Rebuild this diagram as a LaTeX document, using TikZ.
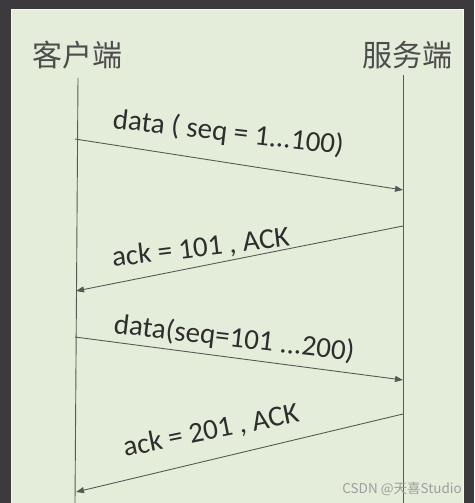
\documentclass[tikz,border=0pt]{standalone}
\usepackage{fontspec}
\setmainfont{Carlito}
\newfontfamily\cjk{Noto Sans CJK SC}
\usetikzlibrary{arrows.meta}
\definecolor{frame}{HTML}{3C3A3C}
\definecolor{panel}{HTML}{E4EDDA}
\definecolor{ink}{HTML}{2E2E2E}
\definecolor{lineink}{HTML}{555A55}
\tikzset{
  life/.style={draw=lineink, line width=0.9pt},
  msg/.style={draw=lineink, line width=0.9pt, -{Triangle[length=8pt,width=6pt]}},
  lbl/.style={font=\fontsize{29}{32}\selectfont, text=ink, inner sep=0pt, anchor=base west},
  title/.style={font=\cjk\fontsize{30}{34}\selectfont, text=ink!85, inner sep=0pt},
}
\begin{document}
\begin{tikzpicture}[x=1pt,y=1pt]
\useasboundingbox (0,0) rectangle (474,-503);
\fill[frame] (0,0) rectangle (474,-503);
\fill[panel] (11,-9) rectangle (464,-503);
\draw[white!70!panel, line width=0.8pt] (11.4,-503) -- (11.4,-9.4) -- (463.6,-9.4) -- (463.6,-503);
% titles
\node[title] (client) at (77.5,-55) {客户端};
\node[title] (server) at (407.5,-55) {服务端};
% lifelines
\coordinate (ct) at (78,-78);
\coordinate (cb) at (75,-503);
\coordinate (st) at (403.5,-75);
\coordinate (sb) at (403.5,-503);
\draw[life] (ct) -- (cb);
\draw[life] (st) -- (sb);
% message endpoints
\coordinate (a1) at (75,-139);
\coordinate (b1) at (403,-190);
\coordinate (a2) at (403,-226);
\coordinate (b2) at (76,-291);
\coordinate (a3) at (75,-337);
\coordinate (b3) at (403,-380);
\coordinate (a4) at (403,-414);
\coordinate (b4) at (76,-492);
\draw[msg] (a1) -- (b1);
\draw[msg] (a2) -- (b2);
\draw[msg] (a3) -- (b3);
\draw[msg] (a4) -- (b4);
% labels
\node[lbl, rotate=-6.6] (l1) at (112,-128) {data ( seq = 1...100)};
\node[lbl, rotate=6.7] (l2) at (113,-267) {ack = 101 , ACK};
\node[lbl, rotate=-6.6] (l3) at (113,-333) {data(seq=101 ...200)};
\node[lbl, rotate=11.4] (l4) at (125,-457) {ack = 201 , ACK};
% watermark
\node[font=\cjk\fontsize{13.5}{15}\selectfont, text=black!38, inner sep=0pt, anchor=east] (wm) at (462,-489) {CSDN @天喜Studio};
\end{tikzpicture}
\end{document}
